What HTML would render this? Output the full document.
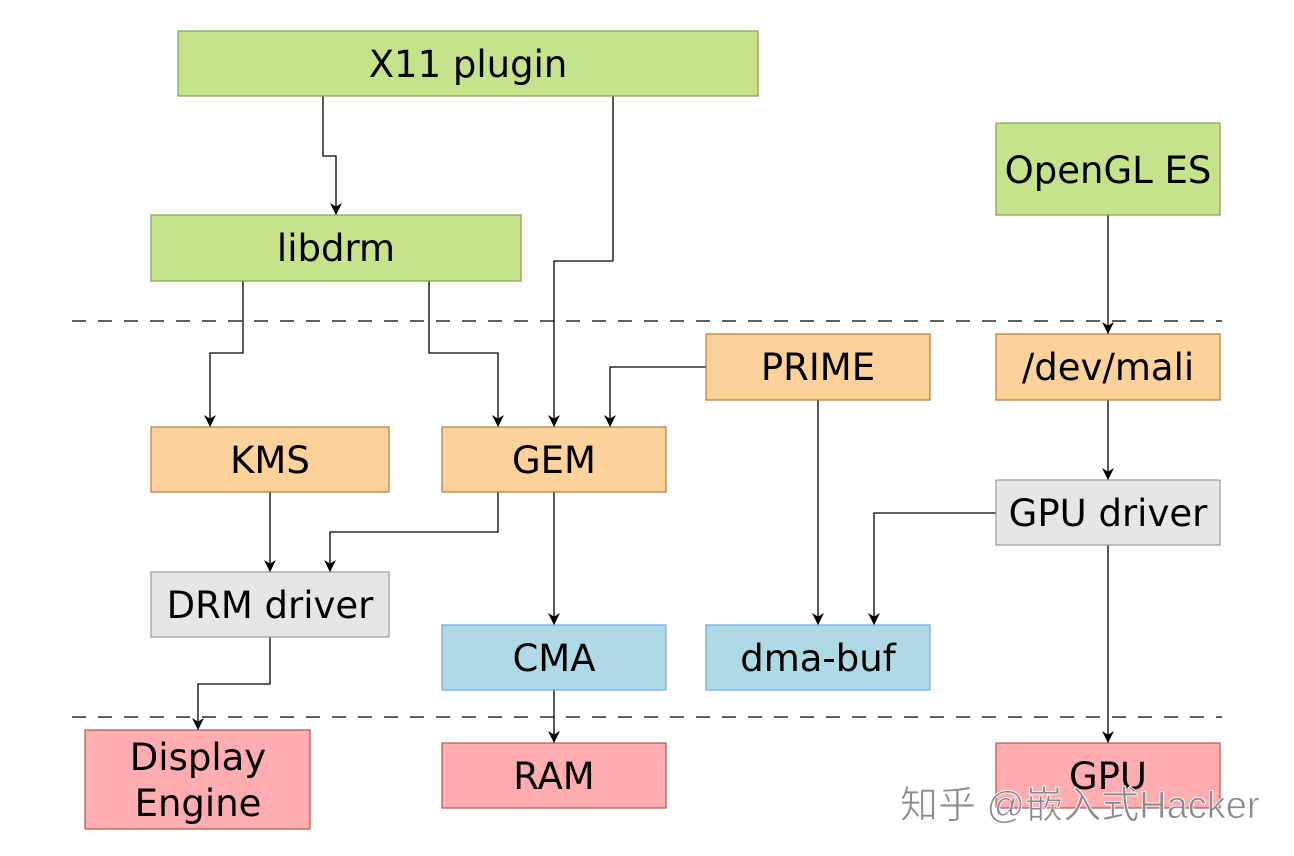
<!DOCTYPE html>
<html><head><style>body{margin:0;background:#fff}svg{display:block}</style></head><body>
<svg width="1294" height="856" xmlns="http://www.w3.org/2000/svg" font-family="DejaVu Sans, sans-serif" font-size="37">
<defs>
<marker id="b" viewBox="0 0 10 10" markerWidth="12" markerHeight="12" refX="10" refY="5" orient="auto" markerUnits="userSpaceOnUse"><path d="M0,0 L10,5 L0,10 L3,5 Z" fill="#000"/></marker></defs>
<g stroke="#000" stroke-width="1.2" stroke-dasharray="14 12"><line x1="72" y1="321" x2="1222" y2="321"/><line x1="72" y1="717" x2="1222" y2="717"/></g>
<g fill="none" stroke="#000" stroke-width="1.3" marker-end="url(#b)">
<polyline points="323,96 323,156 336,156 336,215"/>
<polyline points="613,96 613,261 554,261 554,427"/>
<polyline points="243,281 243,353 210,353 210,427"/>
<polyline points="429,281 429,353 498,353 498,427"/>
<polyline points="706,367 610,367 610,427"/>
<polyline points="1108,215 1108,334"/>
<polyline points="1108,400 1108,480"/>
<polyline points="270,492 270,572"/>
<polyline points="498,492 498,532 330,532 330,572"/>
<polyline points="554,492 554,625"/>
<polyline points="818,400 818,625"/>
<polyline points="996,513 874,513 874,625"/>
<polyline points="270,637 270,684 198,684 198,730"/>
<polyline points="554,690 554,743"/>
<polyline points="1108,545 1108,743"/>
</g>
<g stroke-width="1.2">
<rect x="178" y="31" width="580" height="65" fill="#c5e38b" stroke="#7fa24e"/>
<rect x="151" y="215" width="370" height="66" fill="#c5e38b" stroke="#7fa24e"/>
<rect x="996" y="123" width="224" height="92" fill="#c5e38b" stroke="#7fa24e"/>
<rect x="706" y="334" width="224" height="66" fill="#fdd29a" stroke="#b47a30"/>
<rect x="996" y="334" width="224" height="66" fill="#fdd29a" stroke="#b47a30"/>
<rect x="151" y="427" width="238" height="65" fill="#fdd29a" stroke="#b47a30"/>
<rect x="442" y="427" width="224" height="65" fill="#fdd29a" stroke="#b47a30"/>
<rect x="996" y="480" width="224" height="65" fill="#e6e6e6" stroke="#999"/>
<rect x="151" y="572" width="238" height="65" fill="#e6e6e6" stroke="#999"/>
<rect x="442" y="625" width="224" height="65" fill="#b0d9e6" stroke="#6fa8dc"/>
<rect x="706" y="625" width="224" height="65" fill="#b0d9e6" stroke="#6fa8dc"/>
<rect x="85" y="730" width="225" height="99" fill="#ffadb0" stroke="#b85450"/>
<rect x="442" y="743" width="224" height="65" fill="#ffadb0" stroke="#b85450"/>
<rect x="996" y="743" width="224" height="65" fill="#ffadb0" stroke="#b85450"/>
</g>
<g text-anchor="middle" fill="#000">
<text x="468" y="77">X11 plugin</text>
<text x="336" y="261">libdrm</text>
<text x="1108" y="183">OpenGL ES</text>
<text x="818" y="380">PRIME</text>
<text x="1108" y="380">/dev/mali</text>
<text x="270" y="473">KMS</text>
<text x="554" y="473">GEM</text>
<text x="1108" y="526">GPU driver</text>
<text x="270" y="618">DRM driver</text>
<text x="554" y="671">CMA</text>
<text x="818" y="671">dma-buf</text>
<text x="198" y="770">Display</text>
<text x="198" y="816">Engine</text>
<text x="554" y="789">RAM</text>
<text x="1108" y="789">GPU</text>
</g>
<text x="900" y="818" font-family="Liberation Sans, Noto Sans CJK SC, sans-serif" font-size="38" fill="#8a8a8a" stroke="#fff" stroke-width="0.8">知乎 @嵌入式Hacker</text>
</svg>
</body></html>
